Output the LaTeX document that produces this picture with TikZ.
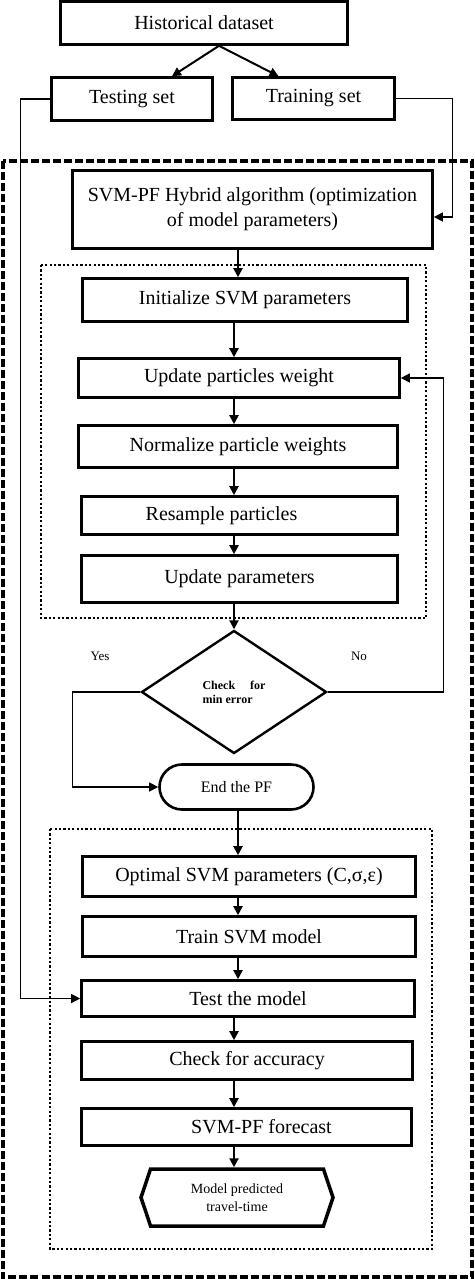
\documentclass[tikz,border=0pt]{standalone}
\usepackage{fontspec}
\setmainfont{Liberation Serif}
\usetikzlibrary{arrows.meta, positioning, shapes.geometric, shapes.symbols}

\begin{document}
\begin{tikzpicture}[x=1pt, y=-1pt, >={Triangle[length=9pt, width=9pt]},
  box/.style={draw, line width=2.6pt, inner sep=0pt, font=\fontsize{20}{25}\selectfont},
  flow/.style={->, line width=2pt},
  link/.style={->, line width=1.2pt},
  frame/.style={line width=4pt, dash pattern=on 8pt off 3pt},
  group/.style={line width=2.4pt, dash pattern=on 2.2pt off 2.2pt}]
  \useasboundingbox (0,0) rectangle (474,1279);
  % outer frame and the two dotted groups
  \draw[frame] (2.5,161) rectangle (472,1277);
  \draw[group] (41,265) rectangle (426,618);
  \draw[group] (50,829) rectangle (432,1249);
  \coordinate (colA) at (238,0);
  \coordinate (colB) at (234,0);
  % data split
  \node[box, minimum width=287pt, minimum height=43pt] (hist) at (204,23) {Historical dataset};
  \node[box, minimum width=161pt, minimum height=43pt] (test) at (132,99) {Testing set};
  \node[box, minimum width=162pt, minimum height=42pt] (train) at (313.5,98.5) {Training set};
  \node[box, minimum width=360pt, minimum height=78pt, align=center] (hyb) at (252.5,209.5)
    {SVM-PF Hybrid algorithm (optimization\\of model parameters)};
  % particle filter loop
  \node[box, minimum width=325pt, minimum height=43pt] (init) at (245,300) {Initialize SVM parameters};
  \node[box, minimum width=321pt, minimum height=39pt] (upd) at (239,378) {Update particles weight};
  \node[box, minimum width=319pt, minimum height=42pt] (norm) at (238,446.5) {Normalize particle weights};
  \node[box, minimum width=316pt, minimum height=38pt] (resamp) at (239.5,515.5) {\hspace*{-36pt}Resample particles};
  \node[box, minimum width=316pt, minimum height=47pt] (updpar) at (239.5,579) {Update parameters};
  \node[draw, diamond, aspect=1.5, line width=2.4pt, inner sep=0pt, minimum width=185pt, minimum height=123pt,
    align=left, font=\bfseries\fontsize{12}{14}\selectfont] (dia) at (234,692) {Check\hspace{15pt}for\\min error};
  \node[font=\fontsize{13}{15}\selectfont] (yes) at (100,656) {Yes};
  \node[font=\fontsize{13}{15}\selectfont] (no) at (359,656) {No};
  \node[draw, line width=2.6pt, rounded corners=22.5pt, minimum width=154pt, minimum height=45pt,
    font=\fontsize{16}{18}\selectfont] (endpf) at (236.5,787) {End the PF};
  % model training and forecast
  \node[box, minimum width=333pt, minimum height=40pt] (opt) at (249,876.5) {Optimal SVM parameters (C,σ,ε)};
  \node[box, minimum width=333pt, minimum height=40pt] (trainm) at (249,936.5) {Train SVM model};
  \node[box, minimum width=333pt, minimum height=36pt] (testm) at (248,998.5) {Test the model};
  \node[box, minimum width=331pt, minimum height=38pt] (acc) at (247,1060.5) {Check for accuracy};
  \node[box, minimum width=330pt, minimum height=37pt] (fcast) at (246.5,1127) {SVM-PF forecast\hspace*{-30pt}};
  \node[draw, signal, signal to=west and east, signal pointer angle=143, line width=3.5pt, inner sep=0pt,
    minimum width=192pt, minimum height=57pt, align=center, font=\fontsize{14}{18}\selectfont] (pred) at (237,1197.5)
    {Model predicted\\travel-time};
  % connectors
  \draw[flow] ([xshift=15pt]hist.south) -- ([xshift=40pt]test.north);
  \draw[flow] ([xshift=15pt]hist.south) -- ([xshift=-35pt]train.north);
  \draw[link] (test.west) -- ++(-30,0) |- (testm.west);
  \draw[link] (train.east) -- ++(57,0) |- ([yshift=-7.5pt]hyb.east);
  \draw[flow] (hyb.south -| colA) -- (init.north -| colA);
  \draw[flow] (init.south -| colB) -- (upd.north -| colB);
  \draw[flow] (upd.south -| colB) -- (norm.north -| colB);
  \draw[flow] (norm.south -| colB) -- (resamp.north -| colB);
  \draw[flow] (resamp.south -| colB) -- (updpar.north -| colB);
  \draw[flow] (updpar.south -| colB) -- (dia.north);
  \draw[link] (dia.east) -- ++(116,0) |- (upd.east);
  \draw[link] (dia.west) -- ++(-68,0) |- (endpf.west);
  \draw[flow] (endpf.south -| colA) -- (opt.north -| colA);
  \draw[flow] (opt.south -| colA) -- (trainm.north -| colA);
  \draw[flow] (trainm.south -| colA) -- (testm.north -| colA);
  \draw[flow] (testm.south -| colB) -- (acc.north -| colB);
  \draw[flow] (acc.south -| colB) -- (fcast.north -| colB);
  \draw[flow] (fcast.south -| colB) -- (pred.north -| colB);
\end{tikzpicture}
\end{document}
